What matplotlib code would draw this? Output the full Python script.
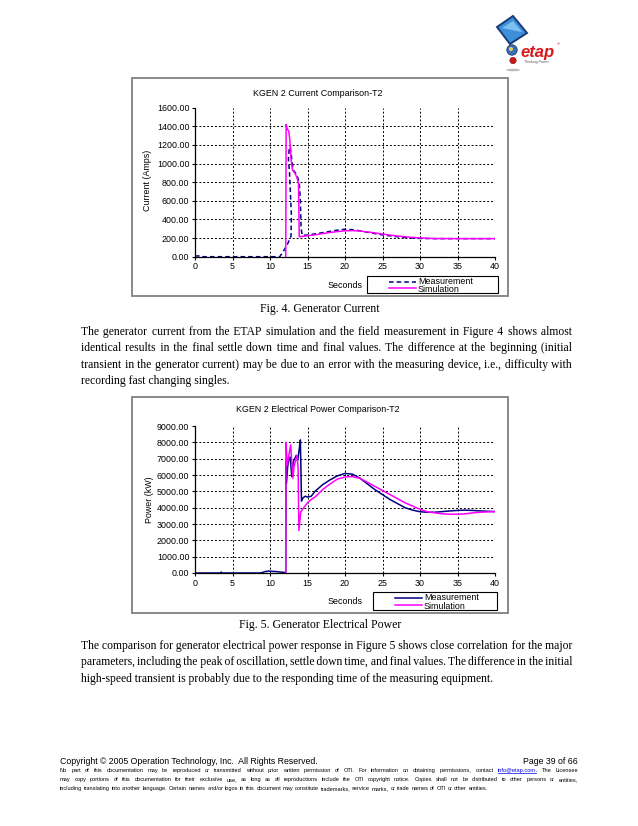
import numpy as np
import matplotlib
matplotlib.use("Agg")
from matplotlib import pyplot as plt
from matplotlib import font_manager
from matplotlib.ft2font import FT2Font
from matplotlib.patches import Rectangle, Polygon, Circle, Ellipse

# Fig. 4 - KGEN 2 current (Amps) vs seconds
cur_meas_t = [0.0, 0.8, 0.9, 11.3, 11.8, 12.3, 12.8, 12.85, 12.6, 12.45, 12.55, 12.7, 12.9,
              13.1, 13.4, 13.7, 13.9, 14.05, 14.15, 14.3, 15, 16, 17, 18, 19, 20, 21, 22,
              23, 24, 25, 26, 27, 28, 29, 30, 32, 35, 40]
cur_meas_a = [8, 8, 0, 0, 60, 130, 220, 450, 900, 1050, 1150, 1180, 1050,
              930, 900, 850, 790, 600, 300, 230, 232, 245, 258, 272, 285, 295, 290, 278,
              263, 248, 234, 224, 214, 206, 200, 196, 194, 194, 194]
cur_sim_t = [12.1, 12.15, 12.3, 12.5, 12.65, 12.8, 13.0, 13.3, 13.6, 13.8, 13.9, 14.5, 15,
             16, 17, 18, 19, 20, 21, 22, 23, 24, 25, 26, 27, 28, 29, 30, 31, 32, 35, 40]
cur_sim_a = [0, 1420, 1370, 1350, 1250, 1050, 930, 900, 850, 780, 215, 220, 225,
             235, 248, 260, 270, 278, 280, 276, 266, 255, 243, 232, 222, 214, 207, 202,
             198, 195, 194, 194]

# Fig. 5 - KGEN 2 electrical power (kW) vs seconds
pow_meas_t = [0, 3.4, 3.5, 3.6, 8.8, 9.3, 9.8, 10.3, 10.8, 11.3, 11.8, 12.1, 12.13, 12.2,
              12.35, 12.5, 12.7, 12.9, 13.1, 13.3, 13.5, 13.7, 13.9, 14.05, 14.2, 14.4,
              14.7, 15, 15.5, 16, 16.5, 17, 18, 19, 20, 21, 22, 23, 24, 25, 26, 27, 28,
              29, 30, 31, 32, 33, 34, 35, 36, 37, 38, 39, 40]
pow_meas_p = [0, 0, 60, 0, 0, 80, 120, 100, 90, 60, 40, 30, 6800, 5500,
              6500, 6900, 7100, 5900, 6800, 7000, 7200, 6900, 7600, 8150, 4400, 4600,
              4700, 4650, 4700, 5000, 5200, 5400, 5700, 5950, 6100, 6050, 5800, 5450, 5100,
              4800, 4500, 4250, 4000, 3850, 3750, 3720, 3720, 3760, 3800, 3830, 3850, 3830,
              3800, 3780, 3760]
pow_sim_t = [12.1, 12.13, 12.3, 12.75, 13.05, 13.2, 13.6, 13.75, 13.85, 14.1, 14.5, 15,
             15.5, 16, 17, 18, 19, 20, 21, 22, 23, 24, 25, 26, 27, 28, 29, 30, 31, 32,
             33, 34, 35, 36, 37, 38, 39, 40]
pow_sim_p = [0, 8000, 6600, 7850, 5800, 6500, 7200, 6400, 2600, 3750, 4000, 4300,
             4500, 4650, 5100, 5450, 5750, 5880, 5900, 5800, 5550, 5300, 5050, 4800, 4550,
             4300, 4100, 3900, 3750, 3680, 3620, 3600, 3600, 3620, 3680, 3720, 3740, 3760]

x_ticks = list(range(0, 41, 5))
cur_ticks = list(range(0, 1601, 200))
pow_ticks = list(range(0, 9001, 1000))

para1 = ["The generator current from the ETAP simulation and the field measurement in Figure 4 shows almost",
         "identical results in the final settle down time and final values.  The difference at the beginning (initial",
         "transient in the generator current) may be due to an error with the measuring device, i.e., difficulty with",
         "recording fast changing singles."]
para2 = ["The comparison for generator electrical power response in Figure 5 shows close correlation for the major",
         "parameters, including the peak of oscillation, settle down time, and final values.  The difference in the initial",
         "high-speed transient is probably due to the responding time of the measuring equipment."]
footer = ["No part of this documentation may be reproduced or transmitted without prior written permission of OTI. For information on obtaining permissions, contact info@etap.com. The Licensee",
          "may copy portions of this documentation for their exclusive use, as long as all reproductions include the OTI copyright notice. Copies shall not be distributed to other persons or entities,",
          "including translating into another language. Certain names and/or logos in this document may constitute trademarks, service marks, or trade names of OTI or other entities."]

W, H = 638, 826
NAVY = "#000080"
MAGENTA = "#ff00ff"
LINK = "#0000ee"
SANS = "Liberation Sans"
SERIF = "Liberation Serif"
HAIR = "\u200a"

fig = plt.figure(figsize=(W / 100, H / 100), dpi=100)
page = fig.add_axes([0, 0, 1, 1], zorder=0)
page.set_xlim(0, W)
page.set_ylim(H, 0)
page.axis("off")
renderer = fig.canvas.get_renderer()


def rect(x0, y0, x1, y1):
    return [x0 / W, 1 - y1 / H, (x1 - x0) / W, (y1 - y0) / H]


def has_char(family, ch):
    path = font_manager.findfont(font_manager.FontProperties(family=family))
    return FT2Font(path).get_char_index(ord(ch)) != 0


def width(s, size, family):
    t = page.text(0, 0, s, fontsize=size, family=family)
    w = t.get_window_extent(renderer).width
    t.remove()
    return w


def justify_lines(lines, x0, x1, y0, dy, size, family):
    # one Text per line; every gap is built from hair spaces (plus a space when wide enough)
    space = width("a a", size, family) - width("aa", size, family)
    hair = width("a" + HAIR + "a", size, family) - width("aa", size, family)
    for i, line in enumerate(lines):
        words = line.split()
        y = y0 + i * dy
        if i == len(lines) - 1:
            page.text(x0, y, " ".join(words), fontsize=size, family=family, va="baseline")
            continue
        natural = width(" ".join(words), size, family)
        gap = space + (x1 - x0 - natural) / (len(words) - 1)
        s = words[0]
        if gap >= space:
            step, base = gap - space, " "
        else:
            step, base = gap, ""
        done = 0
        for k, w in enumerate(words[1:], start=1):
            n = int(round(k * step / hair)) - done
            done += n
            s += base + HAIR * max(n, 1 if base == "" else 0) + w
        page.text(x0, y, s, fontsize=size, family=family, va="baseline")


def word_parts(word):
    if word.startswith("info@etap.com"):
        return [("info@etap.com", LINK), (word[len("info@etap.com"):], "black")]
    return [(word, "black")]


def justify_words(lines, x0, x1, y0, dy, size, family):
    # one Text per word, used for the footer with its coloured link
    space = width("a a", size, family) - width("aa", size, family)
    for i, line in enumerate(lines):
        words = line.split()
        pieces = []
        for w in words:
            parts = []
            for txt, col in word_parts(w):
                t = page.text(0, 0, txt, fontsize=size, family=family, color=col,
                              va="baseline")
                parts.append((t, t.get_window_extent(renderer).width, col))
            pieces.append(parts)
        widths = [sum(p[1] for p in parts) for parts in pieces]
        if i < len(lines) - 1:
            gap = (x1 - x0 - sum(widths)) / (len(words) - 1)
        else:
            gap = space
        x = x0
        y = y0 + i * dy
        for parts in pieces:
            for t, w, col in parts:
                t.set_position((x, y))
                if col == LINK:
                    page.plot([x, x + w], [y + 1, y + 1], color=LINK, lw=0.5)
                x += w
            x += gap


def chart(frame, box, title, ylabel, ty, ly, legy, legx, mt, mv, st, sv, yticks, meas_ls):
    fx0, fy0, fx1, fy1 = frame
    page.add_patch(Rectangle((fx0, fy0), fx1 - fx0, fy1 - fy0, facecolor="white",
                             edgecolor="#808080", lw=1.3))
    page.text(318, ty, title, ha="center", va="center", fontsize=6.4, family=SANS)
    page.text(ly[0], ly[1], ylabel, ha="center", va="center", rotation=90,
              fontsize=6.4, family=SANS)
    page.text(345, legy[0] + 4, "Seconds", ha="center", va="center", fontsize=6.4, family=SANS)
    lx0, lx1 = legx
    page.add_patch(Rectangle((lx0, legy[0] - 6), lx1 - lx0, legy[1] - legy[0] + 9,
                             facecolor="white", edgecolor="black", lw=0.8))
    page.plot([lx0 + 22, lx0 + 49], [legy[0], legy[0]], color=NAVY, lw=1.1, ls=meas_ls)
    page.plot([lx0 + 22, lx0 + 49], [legy[1] - 2, legy[1] - 2], color=MAGENTA, lw=1.1)
    page.text(lx0 + 51, legy[0], "Measurement", va="center", fontsize=6.4, family=SANS)
    page.text(lx0 + 51, legy[1], "Simulation", va="center", fontsize=6.4, family=SANS)

    ax = fig.add_axes(rect(*box), zorder=1)
    ax.plot(mt, mv, color=NAVY, lw=1.1, ls=meas_ls)
    ax.plot(st, sv, color=MAGENTA, lw=1.1)
    ax.set_xlim(0, 40)
    ax.set_ylim(0, yticks[-1])
    ax.set_xticks(x_ticks)
    ax.set_yticks(yticks)
    ax.set_yticklabels(["%.2f" % v for v in yticks])
    ax.grid(True, ls=(0, (2, 2)), color="black", lw=0.7)
    ax.xaxis.get_gridlines()[-1].set_visible(False)
    ax.yaxis.get_gridlines()[-1].set_visible(False)
    for s in ["top", "right"]:
        ax.spines[s].set_visible(False)
    for s in ["left", "bottom"]:
        ax.spines[s].set_linewidth(0.9)
    ax.tick_params(direction="out", length=2.5, width=0.8, pad=1.5, labelsize=6.4)
    for lab in ax.get_xticklabels() + ax.get_yticklabels():
        lab.set_family(SANS)
    return ax


chart((132, 78, 508, 296), (195, 107.7, 495, 256.7), "KGEN 2 Current Comparison-T2",
      "Current (Amps)", 93, (148, 180), (281.5, 290), (367, 498),
      cur_meas_t, cur_meas_a, cur_sim_t, cur_sim_a, cur_ticks, (0, (3, 2)))
chart((132, 397, 508, 613), (195, 426, 495, 573), "KGEN 2 Electrical Power Comparison-T2",
      "Power (kW)", 410, (150, 500), (598, 606.5), (373, 497),
      pow_meas_t, pow_meas_p, pow_sim_t, pow_sim_p, pow_ticks, "-")

# captions and body text
page.text(320, 309, "Fig. 4. Generator Current", ha="center", va="center",
          fontsize=8.5, family=SERIF)
page.text(320, 625, "Fig. 5. Generator Electrical Power", ha="center", va="center",
          fontsize=8.5, family=SERIF)
if has_char(SERIF, HAIR):
    justify_lines(para1, 81, 572, 335, 16.3, 8.35, SERIF)
    justify_lines(para2, 81, 572, 649, 16.3, 8.35, SERIF)
else:
    justify_words(para1, 81, 572, 335, 16.3, 8.35, SERIF)
    justify_words(para2, 81, 572, 649, 16.3, 8.35, SERIF)

# footer
page.text(60, 762, "Copyright \u00a9 2005 Operation Technology, Inc.  All Rights Reserved.",
          va="center", fontsize=6.3, family=SANS)
page.text(578, 762, "Page 39 of 66", ha="right", va="center", fontsize=6.3, family=SANS)
justify_words(footer, 60, 578, 772, 9, 4.1, SANS)

# etap logo
page.add_patch(Polygon([(497, 27), (513, 16), (527, 33), (510, 44)], closed=True,
                       facecolor="#3d8fd8", edgecolor="#1a3b78", lw=1.4))
page.add_patch(Polygon([(502, 28), (513, 21), (522, 32)], closed=True,
                       facecolor="#7cc0f0", edgecolor="none"))
page.add_patch(Ellipse((513, 70), 14, 2.5, facecolor="#bbbbbb", edgecolor="none"))
page.add_patch(Circle((512, 50), 5.2, facecolor="#3b6fb5", edgecolor="#1a3b78", lw=0.6))
page.add_patch(Circle((511, 49), 2, facecolor="#e8d060", edgecolor="none"))
page.add_patch(Circle((513, 60.5), 3.2, facecolor="#d01818", edgecolor="#801010", lw=0.4))
page.text(520, 57, "etap", fontsize=12, family=SANS, weight="bold", style="italic",
          color="#d7191c", va="baseline")
page.text(557, 45, "\u00ae", fontsize=3, family=SANS, color="#d7191c")
page.text(524, 62.5, "Thinking Power", fontsize=2.6, family=SANS, style="italic",
          color="#555555", va="center")

fig.savefig("out.png", dpi=100)
